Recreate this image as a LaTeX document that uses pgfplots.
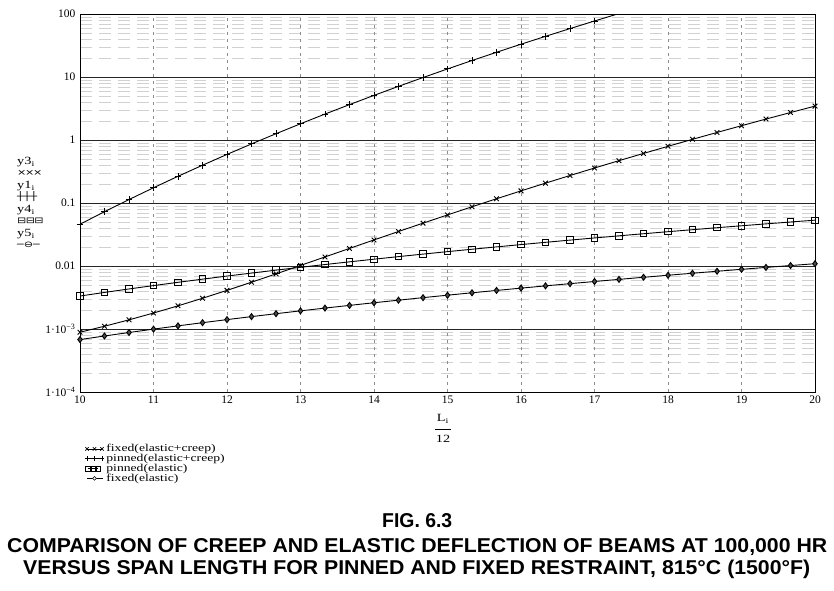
\documentclass[border=0pt]{standalone}
\usepackage{pgfplots}
\pgfplotsset{compat=1.18}
\usepackage{pgfplotstable}
\usepackage{fontspec}
\setmainfont{Liberation Serif}
\newfontfamily\capfont{Liberation Sans}
\newfontfamily\symfont{DejaVu Sans}
\newcommand{\wide}[1]{\scalebox{1.3}[1]{#1}}

% L = span/12 ; y3 fixed(elastic+creep), y1 pinned(elastic+creep), y4 pinned(elastic), y5 fixed(elastic)
\pgfplotstableread{
L       y3        y1       y4        y5
10      0.000890  0.04600  0.003340  0.000680
10.333  0.001107  0.07279  0.003808  0.000775
10.667  0.001398  0.11355  0.004324  0.000880
11      0.001794  0.17470  0.004890  0.000996
11.333  0.002333  0.26532  0.005511  0.001122
11.667  0.003078  0.39814  0.006188  0.001260
12      0.004106  0.59054  0.006926  0.001410
12.333  0.005529  0.86665  0.007728  0.001573
12.667  0.007499  1.2590   0.008598  0.001751
13      0.010211  1.8113   0.009539  0.001942
13.333  0.013933  2.5812   0.010556  0.002149
13.667  0.019026  3.6481   0.011652  0.002372
14      0.025945  5.1110   0.012831  0.002612
14.333  0.035313  7.1063   0.014097  0.002870
14.667  0.047902  9.8036   0.015456  0.003147
15      0.064748  13.429   0.016909  0.003443
15.333  0.087156  18.268   0.018463  0.003759
15.667  0.11684   24.695   0.020121  0.004097
16      0.15580   33.150   0.021889  0.004456
16.333  0.20678   44.236   0.023770  0.004839
16.667  0.27325   58.704   0.025771  0.005247
17      0.35934   77.467   0.027896  0.005679
17.333  0.47020   101.65   0.030150  0.006138
17.667  0.61260   132.73   0.032537  0.006624
18      0.79439   172.44   0.035062  0.007138
18.333  1.02545   222.94   0.037729  0.007681
18.667  1.31818   286.93   0.040551  0.008256
19      1.68693   367.58   0.043527  0.008862
19.333  2.15039   468.97   0.046660  0.009500
19.667  2.72959   595.69   0.049966  0.010173
20      3.45152   753.94   0.053440  0.010880
}\data

\begin{document}
\begin{tikzpicture}
\path[use as bounding box] (0pt,0pt) rectangle (834pt,-590pt);
\begin{axis}[
  at={(80pt,-392pt)}, anchor=south west,
  width=735pt, height=378pt, scale only axis,
  ymode=log, xmin=10, xmax=20, ymin=1e-4, ymax=100,
  xtick={10,11,...,20},
  ytick={1e-4,1e-3,0.01,0.1,1,10,100},
  yticklabels={1·10\textsuperscript{−4},1·10\textsuperscript{−3},0.01,0.1,1,10,100},
  /pgf/number format/assume math mode=true,
  tick label style={font=\fontsize{11.5}{13}\selectfont},
  xticklabel style={yshift=-0.5pt},
  yticklabel style={xshift=-1pt},
  tick style={draw=none},
  axis line style={black, line width=1pt},
  grid=both,
  major grid style={black!85, line width=0.8pt},
  minor grid style={black!18, line width=0.4pt, dash pattern=on 12pt off 7pt},
  xmajorgrids=false,
  extra x ticks={11,12,...,19},
  extra x tick labels={},
  extra x tick style={grid=major, major grid style={black!45, line width=0.5pt, dash pattern=on 3pt off 4pt}},
  legend style={at={(0.006,-0.133)}, anchor=north west, draw=none, fill=none,
    font=\fontsize{10.5}{11}\selectfont, row sep=-3pt, inner sep=0pt},
  legend cell align=left,
]
\addplot[black, line width=0.9pt, mark=x, mark size=3.3pt,
  legend image code/.code={\draw[black, line width=0.7pt, mark=x, mark size=2.4pt] plot coordinates {(0pt,0pt) (7.5pt,0pt) (15pt,0pt)};}]
  table[x=L, y=y3] {\data};
\addlegendentry{\wide{fixed(elastic+creep)}}
\addplot[black, line width=0.9pt, mark=+, mark size=3.3pt,
  legend image code/.code={\draw[black, line width=0.7pt, mark=+, mark size=2.4pt] plot coordinates {(0pt,0pt) (7.5pt,0pt) (15pt,0pt)};}]
  table[x=L, y=y1] {\data};
\addlegendentry{\wide{pinned(elastic+creep)}}
\addplot[black, line width=0.9pt, mark=square, mark size=3.2pt, mark options={solid, fill=white}, 
  legend image code/.code={\draw[black, line width=0.7pt, mark=square, mark size=2.3pt] plot coordinates {(1pt,0pt) (6.2pt,0pt) (11.4pt,0pt)};}]
  table[x=L, y=y4] {\data};
\addlegendentry{\wide{pinned(elastic)}}
\addplot[black, line width=0.9pt, mark=diamond*, mark size=3pt, mark options={fill=black!70},
  legend image code/.code={\draw[black, line width=0.6pt] (0pt,0pt) -- (16pt,0pt); \draw[black, line width=0.6pt, fill=white] (7.5pt,0pt) circle (1.9pt);}]
  table[x=L, y=y5] {\data};
\addlegendentry{\wide{fixed(elastic)}}
\end{axis}

% left variable stack
\node[anchor=north west, align=left, inner sep=0pt, font=\fontsize{11}{12.5}\selectfont]
  at (17pt,-157pt) {%
  \wide{y3\textsubscript{i}}\\[-1pt]
  {\symfont\fontsize{8.5}{9}\selectfont\wide{×\kern-1pt×\kern-1pt×}}\\[0pt]
  \wide{y1\textsubscript{i}}\\[-1pt]
  {\symfont\fontsize{8.5}{9}\selectfont\wide{┼┼┼}}\\[0pt]
  \wide{y4\textsubscript{i}}\\[-1pt]
  {\symfont\fontsize{8.5}{9}\selectfont\wide{⊟\kern-0.5pt⊟\kern-0.5pt⊟}}\\[0pt]
  \wide{y5\textsubscript{i}}\\[-1pt]
  {\symfont\fontsize{8.5}{9}\selectfont\wide{─⊖─}}};

% x axis label L_i / 12
\node[inner sep=0pt, font=\fontsize{11}{12}\selectfont] at (443pt,-419pt) {\wide{L\textsubscript{i}}};
\draw[black, line width=0.6pt] (435pt,-429pt) -- (451pt,-429pt);
\node[inner sep=0pt, font=\fontsize{11}{12}\selectfont] at (443pt,-439pt) {\wide{12}};

% caption
\node[anchor=base west, inner sep=0pt] at (382pt,-527pt)
  {\resizebox{70pt}{14pt}{\capfont\bfseries FIG. 6.3}};
\node[anchor=base west, inner sep=0pt] at (7pt,-552pt)
  {\resizebox{820pt}{14pt}{\capfont\bfseries COMPARISON OF CREEP AND ELASTIC DEFLECTION OF BEAMS AT 100,000 HR}};
\node[anchor=base west, inner sep=0pt] at (23pt,-574pt)
  {\resizebox{787pt}{14.5pt}{\capfont\bfseries VERSUS SPAN LENGTH FOR PINNED AND FIXED RESTRAINT, 815°C (1500°F)}};
\end{tikzpicture}
\end{document}
